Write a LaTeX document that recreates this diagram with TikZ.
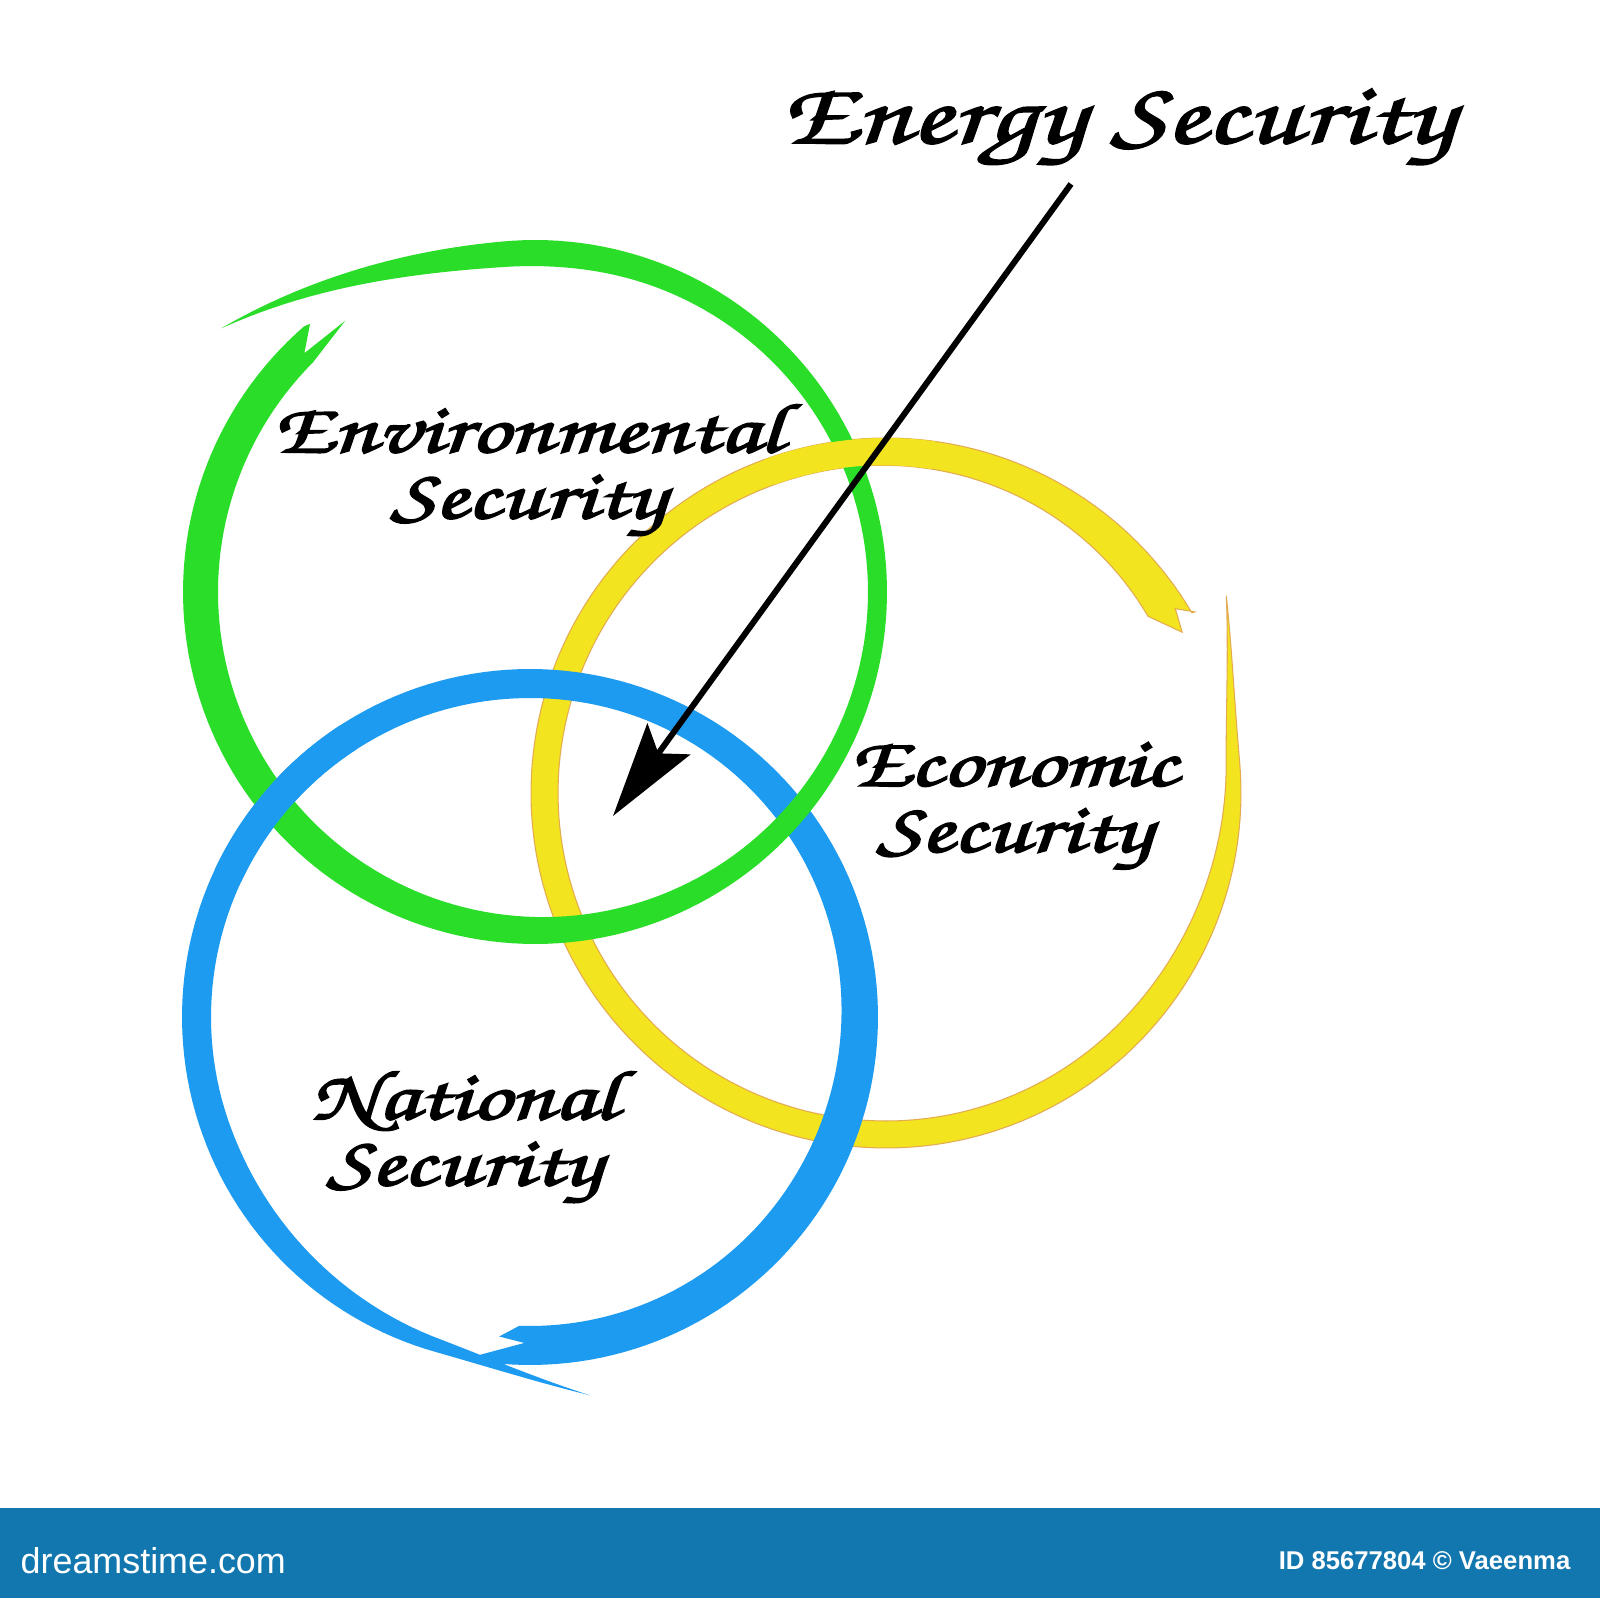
\documentclass[tikz,border=0pt]{standalone}
\usepackage[T1]{fontenc}
\usepackage{fontspec}
\usepackage{graphicx}
\usetikzlibrary{arrows.meta}
\newfontfamily\bannerfont{Liberation Sans}
\newcommand{\inkon}{\special{pdf:literal direct 2 Tr 0.45 w}}
\newcommand{\inkoff}{\special{pdf:literal direct 0 Tr}}
\newcommand{\script}[1]{\scalebox{1.36}[1]{\inkon\usefont{T1}{pzc}{m}{it}#1\inkoff}}
\definecolor{ringgreen}{RGB}{41,221,41}
\definecolor{ringyellow}{RGB}{243,228,32}
\definecolor{ringedge}{RGB}{228,172,80}
\definecolor{ringblue}{RGB}{29,155,240}
\definecolor{bannerblue}{RGB}{18,119,175}
\tikzset{
ring/.style={draw=none},
label/.style={align=center, text=black,
font=\fontsize{20}{18.8}\selectfont},
title/.style={text=black, font=\fontsize{25}{25}\selectfont},
pointer/.style={line width=1.7pt,
-{Stealth[length=27pt, width=15pt, inset=5pt]}},
banner/.style={text=white, inner sep=0pt}}

\begin{document}
\begin{tikzpicture}[x=0.01cm, y=-0.01cm,
declare function={
envout(\t)=352+58*(max(0,265-(\t))/45)^2;
envin(\t)=envout(\t)-(27+8*cos((\t)-180))*sin(90*min(1,((\t)-220)/60));
ecoout(\t)=355+38*(max(0,-5-(\t))/25)^2;
ecoin(\t)=ecoout(\t)-(27+12*(max(0,(\t)-260)/66)^2)*sin(90*min(1,((\t)+30)/75));
natout(\t)=348+35*(max(0,106-(\t))/25)^2;
natin(\t)=natout(\t)-(29+10*sin(90*min(1,max(0,((\t)-280)/120)))^2)*sin(90*min(1,((\t)-81)/80));
}]
\fill[white] (0,0) rectangle (1600,1598);
\useasboundingbox (0,0) rectangle (1600,1598);

% economic ring
\begin{scope}[shift={(886,793)}]
\fill[ring, fill=ringyellow, draw=ringedge, line width=0.3pt]
plot[domain=-30:329.5, samples=200] ({ecoout(\x)*cos(\x)}, {ecoout(\x)*sin(\x)})
-- (329.6:358) -- (327.5:343) -- (331.5:337)
-- plot[domain=326:-30, samples=200] ({ecoin(\x)*cos(\x)}, {ecoin(\x)*sin(\x)}) -- cycle;
\end{scope}

% national ring
\begin{scope}[shift={(530,1017)}]
\fill[ring, fill=ringblue]
plot[domain=81:457, samples=200] ({natout(\x)*cos(\x)}, {natout(\x)*sin(\x)})
-- (459:343) -- (451:326) -- (455.5:321)
-- plot[domain=452:81, samples=200] ({natin(\x)*cos(\x)}, {natin(\x)*sin(\x)}) -- cycle;
\end{scope}

% environmental ring
\begin{scope}[shift={(535,592)}]
\fill[ring, fill=ringgreen]
plot[domain=220:589, samples=200] ({envout(\x)*cos(\x)}, {envout(\x)*sin(\x)})
-- (590:350) -- (586:332) -- (595:331)
-- plot[domain=586:220, samples=200] ({envin(\x)*cos(\x)}, {envin(\x)*sin(\x)}) -- cycle;
\end{scope}

% crossings that lie over the green ring
\begin{scope}[shift={(886,793)}]
\fill[ring, fill=ringyellow]
plot[domain=250:278, samples=30] ({ecoout(\x)*cos(\x)}, {ecoout(\x)*sin(\x)})
-- plot[domain=278:250, samples=30] ({ecoin(\x)*cos(\x)}, {ecoin(\x)*sin(\x)}) -- cycle;
\end{scope}
\begin{scope}[shift={(530,1017)}]
\fill[ring, fill=ringblue]
plot[domain=205:237, samples=30] ({natout(\x)*cos(\x)}, {natout(\x)*sin(\x)})
-- plot[domain=237:205, samples=30] ({natin(\x)*cos(\x)}, {natin(\x)*sin(\x)}) -- cycle;
\end{scope}

\node[title, anchor=base] (energy) at (1118,143) {\script{Energy Security}};
\node[label] (environmental) at (528,471) {\script{Environmental}\\\script{Security}};
\node[label] (economic) at (1014,808) {\script{Economic}\\\script{Security}};
\node[label] (national) at (464,1138) {\script{National}\\\script{Security}};

\coordinate (from) at (1071,184);
\coordinate (core) at (613,816);
\draw[pointer] (from) -- (core);

% stock photo banner
\fill[bannerblue] (0,1508) rectangle (1600,1598);
\node[banner, anchor=west, font=\bannerfont\fontsize{10.2}{10.2}\selectfont] (site) at (20,1561) {dreamstime.com};
\node[banner, anchor=east, font=\bannerfont\bfseries\fontsize{7.3}{7.3}\selectfont] (credit) at (1571,1561) {ID 85677804 © Vaeenma};
\end{tikzpicture}
\end{document}
